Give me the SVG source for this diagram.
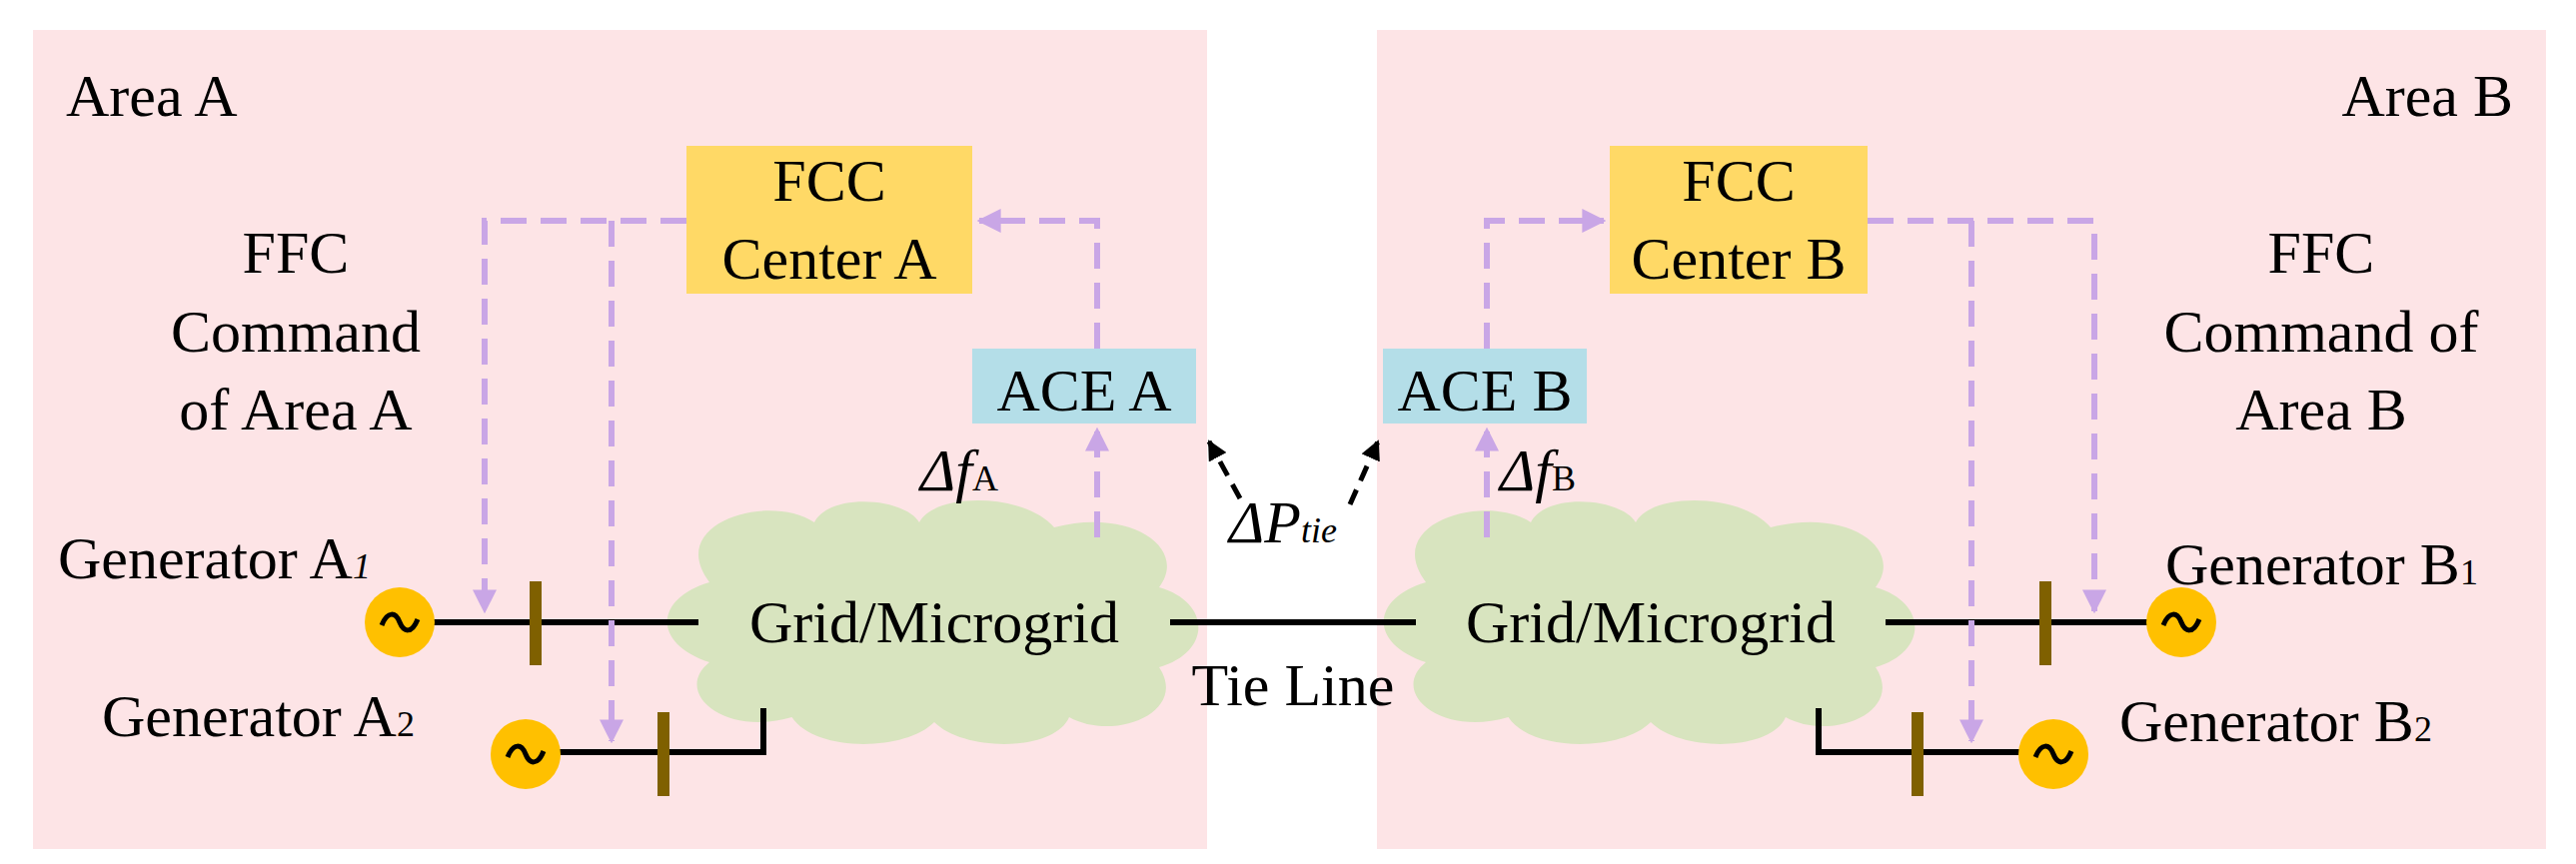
<svg xmlns="http://www.w3.org/2000/svg" width="2578" height="865" viewBox="0 0 2578 865">
<style>
text{font-family:"Liberation Serif","DejaVu Serif",serif;font-size:60px;fill:#000}
.c{text-anchor:middle}
.area{fill:#FDE4E6}
.fcc{fill:#FFD966}
.ace{fill:#B4DEE8}
.cloud{fill:#D8E4BF}
.pl{stroke:#C9A6E6;stroke-width:6;stroke-dasharray:26 14;fill:none}
.bl{stroke:#000;stroke-width:6;fill:none}
.bus{stroke:#7F6000;stroke-width:12}
.gen{fill:#FFC000}
.ds{stroke:#000;stroke-width:5;stroke-dasharray:16 10;fill:none}
.sub{font-size:36px}
</style>
<defs>
<marker id="pa" viewBox="0 0 10 10" refX="9" refY="5" markerWidth="4" markerHeight="4" orient="auto" markerUnits="strokeWidth"><path d="M0,0L10,5L0,10z" fill="#C9A6E6"/></marker>
<marker id="ka" viewBox="0 0 10 10" refX="9" refY="5" markerWidth="4" markerHeight="4" orient="auto" markerUnits="strokeWidth"><path d="M0,0L10,5L0,10z" fill="#000"/></marker>
<g id="cl"><path d="M-150,-40 C-180,-100 -110,-130 -80,-100 C-70,-130 -20,-125 -10,-100 C0,-130 60,-130 80,-95 C130,-115 170,-75 150,-35 C185,-20 185,30 150,45 C170,90 120,120 90,95 C80,130 20,130 0,100 C-20,130 -80,130 -95,95 C-140,115 -175,70 -150,40 C-190,20 -185,-25 -150,-40 Z" class="cloud"/></g>
<g id="gn"><circle r="35" class="gen"/><path d="M-18,3 C-12,-12 -4,-10 0,0 C4,10 12,12 18,-3" stroke="#000" stroke-width="5" fill="none"/></g>
</defs>
<g id="areaA"><rect x="33" y="30" width="1175" height="820" class="area"/><text x="66" y="116">Area A</text></g>
<g id="areaB"><rect x="1378" y="30" width="1170" height="820" class="area"/><text x="2515" y="116" text-anchor="end">Area B</text></g>

<g id="cloudA"><use href="#cl" transform="translate(935,623) scale(1.5,1.0)"/><text x="935" y="643" class="c">Grid/Microgrid</text></g>
<g id="cloudB"><use href="#cl" transform="translate(1652,623) scale(1.5,1.0)"/><text x="1652" y="643" class="c">Grid/Microgrid</text></g>

<g id="connectors">
<line x1="1171" y1="623" x2="1417" y2="623" class="bl"/>
<line x1="420" y1="623" x2="699" y2="623" class="bl"/>
<polyline points="546,753 764,753 764,709" class="bl" stroke-width="8"/>
<line x1="1887" y1="623" x2="2163" y2="623" class="bl"/>
<polyline points="1820,709 1820,753 2035,753" class="bl" stroke-width="8"/>
<polyline points="687,221 485,221 485,612" class="pl" marker-end="url(#pa)"/>
<polyline points="612,221 612,742" class="pl" marker-end="url(#pa)"/>
<polyline points="1098,349 1098,221 980,221" class="pl" marker-end="url(#pa)"/>
<line x1="1098" y1="538" x2="1098" y2="430" class="pl" marker-end="url(#pa)"/>
<line x1="1488" y1="538" x2="1488" y2="430" class="pl" marker-end="url(#pa)"/>
<polyline points="1488,349 1488,221 1605,221" class="pl" marker-end="url(#pa)"/>
<polyline points="1869,221 2096,221 2096,612" class="pl" marker-end="url(#pa)"/>
<polyline points="1973,221 1973,742" class="pl" marker-end="url(#pa)"/>
<line x1="1241" y1="499" x2="1210" y2="442" class="ds" marker-end="url(#ka)"/>
<line x1="1351" y1="505" x2="1379" y2="442" class="ds" marker-end="url(#ka)"/>
</g>

<g id="busA1"><line x1="536" y1="582" x2="536" y2="666" class="bus"/></g>
<g id="busA2"><line x1="664" y1="713" x2="664" y2="797" class="bus"/></g>
<g id="busB1"><line x1="2047" y1="582" x2="2047" y2="666" class="bus"/></g>
<g id="busB2"><line x1="1919" y1="713" x2="1919" y2="797" class="bus"/></g>

<g id="genA1"><use href="#gn" x="400" y="623"/><text x="58" y="579">Generator A<tspan class="sub" font-style="italic">1</tspan></text></g>
<g id="genA2"><use href="#gn" x="526" y="755"/><text x="102" y="737">Generator A<tspan class="sub">2</tspan></text></g>
<g id="genB1"><use href="#gn" x="2183" y="623"/><text x="2167" y="585">Generator B<tspan class="sub">1</tspan></text></g>
<g id="genB2"><use href="#gn" x="2055" y="755"/><text x="2121" y="742">Generator B<tspan class="sub">2</tspan></text></g>

<g id="fccA"><rect x="687" y="146" width="286" height="148" class="fcc"/><text x="830" y="201" class="c">FCC</text><text x="830" y="279" class="c">Center A</text></g>
<g id="fccB"><rect x="1611" y="146" width="258" height="148" class="fcc"/><text x="1740" y="201" class="c">FCC</text><text x="1740" y="279" class="c">Center B</text></g>
<g id="aceA"><rect x="973" y="349" width="224" height="75" class="ace"/><text x="1085" y="411" class="c">ACE A</text></g>
<g id="aceB"><rect x="1384" y="349" width="204" height="75" class="ace"/><text x="1486" y="411" class="c">ACE B</text></g>

<g id="labels">
<text x="296" y="273" class="c">FFC</text><text x="296" y="352" class="c">Command</text><text x="296" y="430" class="c">of Area A</text>
<text x="2323" y="273" class="c">FFC</text><text x="2323" y="352" class="c">Command of</text><text x="2323" y="430" class="c">Area B</text>
<text x="921" y="491" font-style="italic">Δf<tspan class="sub" font-style="normal">A</tspan></text>
<text x="1501" y="491" font-style="italic">Δf<tspan class="sub" font-style="normal">B</tspan></text>
<text x="1230" y="543" font-style="italic">ΔP<tspan class="sub">tie</tspan></text>
<text x="1294" y="706" class="c">Tie Line</text>
</g>
</svg>
